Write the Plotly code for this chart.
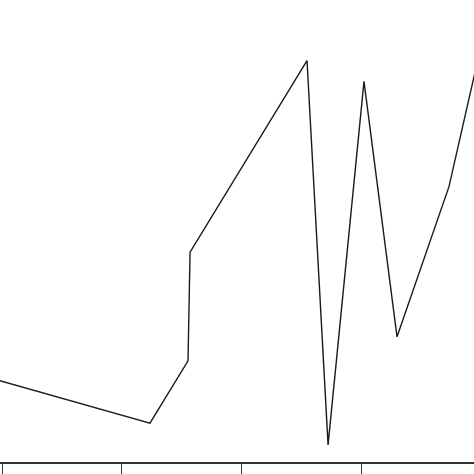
import plotly.graph_objects as go

# values (x in tick units, y in arbitrary units 0-100)
x_vals = [-0.02, 1.236, 1.554, 1.571, 2.548, 2.724, 3.024, 3.300, 3.734, 3.95]
y_vals = [17.6, 8.4, 21.9, 45.4, 86.9, 3.7, 82.4, 27.1, 59.6, 84.2]
tick_vals = [0, 1, 2, 3]

fig = go.Figure(
    go.Scatter(
        x=x_vals,
        y=y_vals,
        mode='lines',
        line=dict(color='#1a1a1a', width=1.4),
        hoverinfo='skip',
    )
)

fig.update_layout(
    width=474,
    height=474,
    margin=dict(l=0, r=0, t=0, b=7),
    plot_bgcolor='white',
    paper_bgcolor='white',
    showlegend=False,
    xaxis=dict(
        range=[-0.0167, 3.943],
        tickvals=tick_vals,
        showticklabels=False,
        ticks='outside',
        ticklen=12,
        tickwidth=1.2,
        tickcolor='#333333',
        showline=True,
        linecolor='#333333',
        linewidth=2,
        showgrid=False,
        zeroline=False,
    ),
    yaxis=dict(
        range=[0, 100],
        visible=False,
        showgrid=False,
        zeroline=False,
    ),
)

# drop the browser's default body margin so the figure sits at the corner
fig.write_html(
    "out.html",
    config={'displayModeBar': False},
    post_script="document.body.style.margin='0';",
)
